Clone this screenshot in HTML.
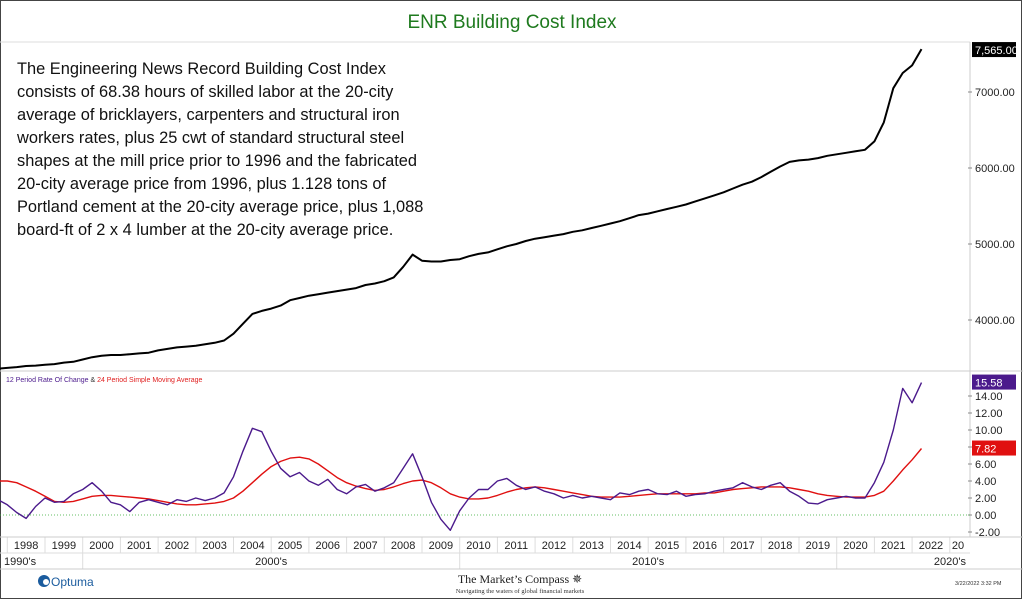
<!DOCTYPE html>
<html><head><meta charset="utf-8"><style>
html,body{margin:0;padding:0;background:#fff;}
svg{display:block;font-family:"Liberation Sans",sans-serif;}
</style></head><body>
<svg id="chart" width="1023" height="600" viewBox="0 0 1023 600">
<rect x="0.5" y="0.5" width="1021" height="598" fill="#fff" stroke="#444"/>
<text x="512" y="28" text-anchor="middle" font-size="19" fill="#1e7a1e">ENR Building Cost Index</text>
<line x1="0" y1="42" x2="970" y2="42" stroke="#ddd"/>
<line x1="970" y1="42" x2="970" y2="537" stroke="#ccc"/>
<line x1="0" y1="371" x2="1023" y2="371" stroke="#ccc"/>
<g font-size="16.4" fill="#111">
<text x="17" y="74">The Engineering News Record Building Cost Index</text>
<text x="17" y="97">consists of 68.38 hours of skilled labor at the 20-city</text>
<text x="17" y="120">average of bricklayers, carpenters and structural iron</text>
<text x="17" y="143">workers rates, plus 25 cwt of standard structural steel</text>
<text x="17" y="166">shapes at the mill price prior to 1996 and the fabricated</text>
<text x="17" y="189">20-city average price from 1996, plus 1.128 tons of</text>
<text x="17" y="212">Portland cement at the 20-city average price, plus 1,088</text>
<text x="17" y="235">board-ft of 2 x 4 lumber at the 20-city average price.</text>
</g>
<text x="6" y="382" font-size="7"><tspan fill="#4b1a8c">12 Period Rate Of Change</tspan><tspan fill="#333"> &amp; </tspan><tspan fill="#e02020">24 Period Simple Moving Average</tspan></text>
<g id="mainAxis"></g><g id="lowAxis"></g><g id="xAxis"></g><g id="series"></g>
<line x1="0" y1="537" x2="1023" y2="537" stroke="#ccc"/>
<line x1="0" y1="553" x2="970" y2="553" stroke="#ddd"/>
<line x1="0" y1="569" x2="1023" y2="569" stroke="#ccc"/>
<g>
<circle cx="44" cy="581" r="6" fill="#1b5c9e"/><circle cx="46" cy="582" r="3" fill="#fff"/>
<text x="51" y="586" font-size="12" fill="#1b5c9e">Optuma</text></g>
<text x="520" y="583" text-anchor="middle" font-family="Liberation Serif,serif" font-size="12" fill="#222">The Market’s Compass ✵</text>
<text x="520" y="593" text-anchor="middle" font-family="Liberation Serif,serif" font-size="6.5" fill="#333">Navigating the waters of global financial markets</text>
<text x="955" y="585" font-size="5.5" fill="#333">3/22/2022 3:32 PM</text>
</svg>
<script>
const years=[1998,1999,2000,2001,2002,2003,2004,2005,2006,2007,2008,2009,2010,2011,2012,2013,2014,2015,2016,2017,2018,2019,2020,2021,2022,2023];
const decades=["1990's","2000's","2010's","2020's"];
const mainTicks=[4000,5000,6000,7000];
const lowTicks=[-2,0,2,4,6,8,10,12,14];
const startT=1997.75, stepT=0.25;
const indexVals=[3360,3370,3380,3395,3400,3410,3420,3440,3450,3480,3510,3530,3540,3540,3550,3560,3570,3600,3620,3640,3650,3660,3680,3700,3730,3820,3950,4080,4120,4150,4190,4260,4290,4320,4340,4360,4380,4400,4420,4460,4480,4510,4560,4700,4860,4780,4770,4770,4790,4800,4840,4870,4890,4930,4970,5000,5040,5070,5090,5110,5130,5160,5180,5210,5240,5270,5300,5340,5380,5400,5430,5460,5490,5520,5560,5600,5640,5680,5730,5780,5820,5880,5950,6020,6080,6100,6110,6130,6160,6180,6200,6220,6240,6350,6600,7050,7250,7350,7565];
const rocVals=[1.8,1.2,0.3,-0.4,1.0,2.0,1.5,1.6,2.5,3.0,3.8,2.8,1.5,1.2,0.4,1.5,1.8,1.5,1.2,1.8,1.6,2.0,1.7,2.0,2.6,4.5,7.5,10.2,9.8,7.5,5.5,4.5,5.0,4.0,3.5,4.2,3.0,2.5,3.3,3.6,2.8,3.2,3.8,5.5,7.2,4.5,1.5,-0.5,-1.8,0.5,2.0,3.0,3.0,4.0,4.3,3.5,3.0,3.3,2.8,2.5,2.0,2.3,2.0,2.2,2.0,1.8,2.6,2.4,2.8,3.0,2.5,2.4,2.8,2.2,2.4,2.5,2.8,3.0,3.2,3.8,3.3,3.0,3.5,3.8,2.8,2.2,1.4,1.3,1.8,2.0,2.2,2.0,2.0,3.8,6.2,10,14.9,13.2,15.58];
const smaVals=[4.0,4.0,3.8,3.3,2.8,2.2,1.6,1.5,1.6,1.9,2.2,2.3,2.3,2.2,2.1,2.0,1.9,1.7,1.5,1.3,1.2,1.2,1.3,1.4,1.6,2.0,2.8,3.8,4.8,5.7,6.3,6.7,6.8,6.6,6.0,5.2,4.4,3.8,3.4,3.1,2.9,3.0,3.3,3.7,4.0,4.1,3.8,3.2,2.5,2.1,1.9,1.9,2.0,2.3,2.7,3.0,3.2,3.3,3.2,3.0,2.8,2.6,2.4,2.2,2.1,2.1,2.1,2.2,2.3,2.4,2.5,2.5,2.5,2.5,2.5,2.6,2.6,2.8,3.0,3.1,3.2,3.3,3.3,3.3,3.2,3.0,2.8,2.5,2.3,2.2,2.1,2.1,2.1,2.3,2.8,4.0,5.3,6.5,7.82];
const NS='http://www.w3.org/2000/svg';
function mk(tag,attrs,parent,txt){const e=document.createElementNS(NS,tag);for(const k in attrs)e.setAttribute(k,attrs[k]);if(txt!==undefined)e.textContent=txt;parent.appendChild(e);return e;}
const xT=t=>45+(t-1999)*37.7;
const yMain=v=>92-(v-7000)*0.076;
const yLow=v=>515-v*8.5;
const ma=document.getElementById('mainAxis'),la=document.getElementById('lowAxis'),xa=document.getElementById('xAxis'),sg=document.getElementById('series');
mainTicks.forEach(v=>{const y=yMain(v);
 mk('line',{x1:968,y1:y,x2:972,y2:y,stroke:'#888'},ma);
 const t=mk('text',{x:975,y:y+4,'font-size':11,fill:'#222'},ma,v.toFixed(2));
 
 });
lowTicks.forEach(v=>{const y=yLow(v);
 mk('line',{x1:968,y1:y,x2:972,y2:y,stroke:'#888'},la);
 const t=mk('text',{x:975,y:y+4,'font-size':11,fill:'#222'},la,v.toFixed(2));
 
 });
mk('line',{x1:0,y1:yLow(0),x2:970,y2:yLow(0),stroke:'#3a3','stroke-dasharray':'1,2','stroke-width':0.8},la);
years.forEach(yr=>{const x0=xT(yr),x1=xT(yr+1);
 if(x0>970)return;
 mk('line',{x1:x0,y1:537,x2:x0,y2:553,stroke:'#ddd'},xa);
 const t=mk('text',{x:Math.min((x0+x1)/2,958),y:549,'font-size':11,fill:'#222','text-anchor':'middle'},xa,yr>=2023?'20':String(yr));
 
 });
[2000,2010,2020].forEach(y=>mk('line',{x1:xT(y),y1:553,x2:xT(y),y2:569,stroke:'#ddd'},xa));
[[4,'start'],[xT(2005),'middle'],[xT(2015),'middle'],[966,'end']].forEach((d,i)=>{
 const t=mk('text',{x:d[0],y:565,'font-size':11,fill:'#222','text-anchor':d[1]},xa,decades[i]);
 
 });
function path(vals,yf,color,w,name){
 const d=vals.map((v,i)=>(i?'L':'M')+xT(startT+i*stepT).toFixed(1)+','+yf(v).toFixed(1)).join('');
 const p=mk('path',{d:d,fill:'none',stroke:color,'stroke-width':w,'stroke-linejoin':'round'},sg);
 
 }
path(indexVals,yMain,'#000',2,'index-line');
path(smaVals,yLow,'#e01010',1.4,'sma-line');
path(rocVals,yLow,'#4b1a8c',1.4,'roc-line');
function badge(y,txt,bg,name){const g=mk('g',{},sg);
 
 
 mk('rect',{x:972,y:y-8,width:44,height:15,fill:bg},g);
 mk('text',{x:975,y:y+4,'font-size':11,fill:'#fff'},g,txt);}
badge(yMain(indexVals[indexVals.length-1])+1,'7,565.00','#000','index-last-value');
badge(yLow(rocVals[rocVals.length-1]),'15.58','#4b1a8c','roc-last-value');
badge(yLow(smaVals[smaVals.length-1]),'7.82','#e01010','sma-last-value');
</script>
</body></html>
